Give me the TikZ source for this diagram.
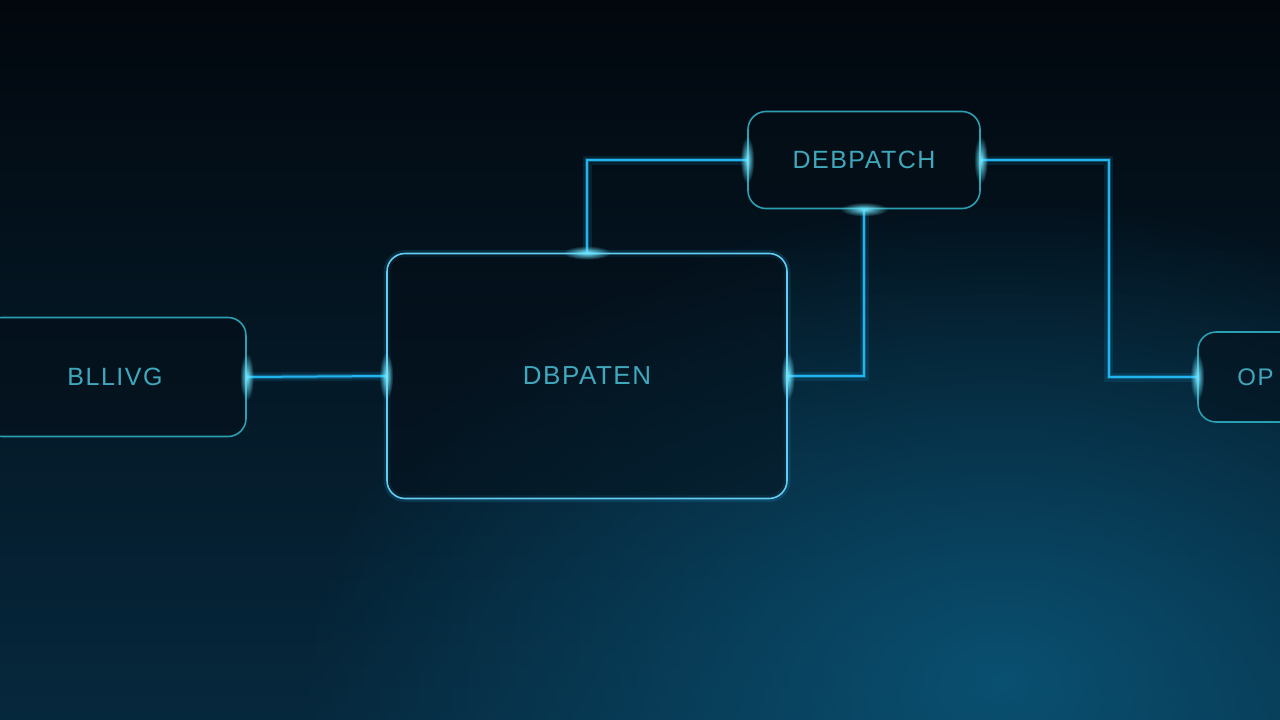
\documentclass[tikz,border=0pt]{standalone}
\usepackage{fontspec}
\newfontfamily\boxfont[LetterSpace=6]{Liberation Sans}
\usetikzlibrary{fadings,calc}
\definecolor{bgtop}{HTML}{02070D}
\definecolor{bgbot}{HTML}{06283D}
\definecolor{bglow}{HTML}{0B5A7E}
\definecolor{edgecol}{HTML}{2A9FB2}
\definecolor{wirecol}{HTML}{22B4EE}
\definecolor{sparkcol}{HTML}{6FE6FF}
\definecolor{textcol}{HTML}{3FA8BC}
\definecolor{boxfill}{HTML}{040E17}
\tikzfading[name=glowfade, inner color=transparent!0, outer color=transparent!100]
\tikzset{
  unit/.style={rectangle, rounded corners=18pt, draw=edgecol, line width=1.6pt, fill=boxfill, fill opacity=0.5, text opacity=1, text=textcol, font=\boxfont\fontsize{25}{25}\selectfont},
  hot/.style={draw=wirecol!70!white, preaction={draw=wirecol, line width=7pt, draw opacity=0.15}},
  wire/.style={draw=wirecol, line width=2pt, preaction={draw=wirecol, line width=9pt, opacity=0.12}, preaction={draw=wirecol, line width=4.5pt, opacity=0.3}},
  spark/.style={fill=sparkcol, path fading=glowfade},
}
\begin{document}
\begin{tikzpicture}[x=1pt, y=-1pt]
	% Background:
	\useasboundingbox (0,0) rectangle (1280,720);
	\clip (0,0) rectangle (1280,720);
	\shade[top color=bgtop, bottom color=bgbot] (0,0) rectangle (1280,720);
	\fill[bglow, path fading=glowfade, fill opacity=0.8] (1000,680) ellipse (700 and 480);
	% Units:
	\node[unit, minimum width=262pt, minimum height=119pt] (billing) at (115,377) {BLLIVG};
	\node[unit, hot, minimum width=400pt, minimum height=245pt, font=\boxfont\fontsize{26}{26}\selectfont] (disp) at (587,376) {DBPATEN};
	\node[unit, minimum width=232pt, minimum height=97pt] (desk) at (864,160) {DEBPATCH};
	\node[unit, minimum width=200pt, minimum height=90pt] (ops) at (1298,377) {};
	\node[text=textcol, font=\boxfont\fontsize{24}{24}\selectfont, anchor=west, inner sep=0pt] (opslbl) at ($(ops.west)+(40,0)$) {OP};
	% Wires:
	\draw[wire] (billing.east) -- (disp.west);
	\draw[wire] (disp.north) |- (desk.west);
	\draw[wire] (disp.east) -| (desk.south);
	\draw[wire] (desk.east) -- ++(128,0) |- (ops.west);
	% Sparks:
	\foreach \p in {billing.east, disp.west, disp.east, desk.west, desk.east, ops.west}
		\fill[spark] (\p) ellipse (7 and 24);
	\foreach \p in {disp.north, desk.south}
		\fill[spark] (\p) ellipse (24 and 7);
\end{tikzpicture}
\end{document}
